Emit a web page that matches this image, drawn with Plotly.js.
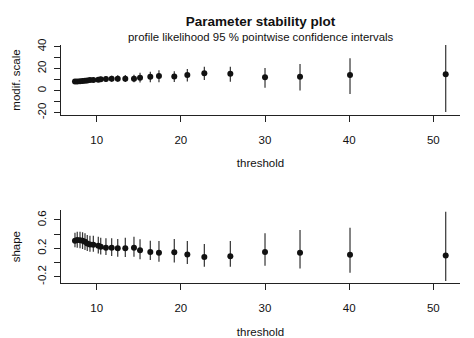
<!DOCTYPE html>
<html><head><meta charset="utf-8">
<script src="https://cdn.plot.ly/plotly-3.0.1.min.js"></script>
<style>html,body{margin:0;padding:0;background:#fff}#chart{width:474px;height:338px}</style>
</head><body><div id="chart"></div>
<script>
const threshold = [7.42, 7.69, 8.02, 8.32, 8.61, 8.88, 9.20, 9.60, 10.19, 10.48, 11.10, 11.78, 12.50, 13.40, 14.43, 15.15, 16.37, 17.40, 19.22, 20.77, 22.79, 25.88, 30.0, 34.16, 40.1, 51.47];
const scaleEst = [8.3, 8.4, 8.5, 8.7, 9.0, 9.3, 9.6, 9.8, 10.0, 10.3, 10.6, 10.8, 10.9, 10.9, 10.9, 11.8, 12.7, 13.3, 12.8, 14.3, 15.9, 15.4, 12.2, 12.7, 14.3, 14.9];
const scaleUpper = [9.8, 10.0, 10.2, 10.5, 10.8, 11.2, 11.6, 11.9, 12.3, 12.7, 13.2, 13.6, 13.9, 14.2, 14.5, 16.3, 17.3, 18.6, 17.6, 19.6, 21.8, 21.8, 20.7, 24.2, 29.4, 43.3];
const scaleLower = [6.8, 6.9, 7.0, 7.1, 7.3, 7.5, 7.7, 7.8, 7.9, 8.0, 8.2, 8.2, 8.1, 7.9, 7.6, 7.4, 7.6, 7.6, 7.8, 8.4, 9.6, 8.2, 2.6, 0.1, -3.0, -19.4];
const shapeEst = [0.307, 0.317, 0.313, 0.307, 0.293, 0.270, 0.256, 0.251, 0.237, 0.223, 0.209, 0.209, 0.200, 0.200, 0.209, 0.172, 0.150, 0.138, 0.146, 0.115, 0.077, 0.088, 0.148, 0.138, 0.110, 0.101];
const shapeUpper = [0.421, 0.435, 0.435, 0.426, 0.412, 0.388, 0.378, 0.378, 0.364, 0.350, 0.341, 0.341, 0.331, 0.350, 0.364, 0.327, 0.307, 0.303, 0.331, 0.303, 0.261, 0.303, 0.412, 0.459, 0.491, 0.717];
const shapeLower = [0.214, 0.209, 0.200, 0.190, 0.176, 0.162, 0.152, 0.152, 0.129, 0.115, 0.105, 0.091, 0.081, 0.077, 0.081, 0.045, 0.035, 0.011, 0.002, -0.022, -0.060, -0.060, -0.045, -0.083, -0.145, -0.262];
const xTicks = [10, 20, 30, 40, 50];
const scaleTicks = [-20, -10, 0, 10, 20, 30, 40];
const scaleTickText = ['-20', '', '0', '', '20', '', '40'];
const shapeTicks = [-0.2, 0, 0.2, 0.4, 0.6];
const shapeTickText = ['-0.2', '', '0.2', '', '0.6'];

const font = 'Liberation Sans, Arial, sans-serif';
const ink = '#111';
function errs(est, up, lo) {
  return {
    type: 'data', symmetric: false,
    array: up.map((u, i) => u - est[i]),
    arrayminus: est.map((e, i) => e - lo[i]),
    width: 0, thickness: 1.2, color: '#333'
  };
}
const traces = [
  {x: threshold, y: scaleEst, xaxis: 'x', yaxis: 'y', type: 'scatter', mode: 'markers',
   marker: {color: ink, size: 6}, error_y: errs(scaleEst, scaleUpper, scaleLower), hoverinfo: 'x+y'},
  {x: threshold, y: shapeEst, xaxis: 'x2', yaxis: 'y2', type: 'scatter', mode: 'markers',
   marker: {color: ink, size: 6}, error_y: errs(shapeEst, shapeUpper, shapeLower), hoverinfo: 'x+y'}
];
const axBase = {showgrid: false, zeroline: false, showline: true, linecolor: '#222', linewidth: 1,
  ticks: 'outside', ticklen: 6, tickcolor: '#222', tickwidth: 1,
  tickfont: {family: font, size: 11.5, color: ink}};
const xr = [5.76, 53.17];
const layout = {
  width: 474, height: 338, margin: {l: 0, r: 0, t: 0, b: 0},
  paper_bgcolor: '#fff', plot_bgcolor: '#fff', showlegend: false,
  font: {family: font, color: ink},
  xaxis: Object.assign({}, axBase, {domain: [0.1287, 0.9705], range: xr, tickvals: xTicks, anchor: 'y',
    ticklabelstandoff: 8,
    title: {text: 'threshold', font: {family: font, size: 11.5, color: ink}, standoff: 14}}),
  yaxis: Object.assign({}, axBase, {domain: [0.6598, 0.8669], range: [-22.1, 41.5], tickvals: scaleTicks,
    ticktext: scaleTickText, tickangle: -90, anchor: 'x', ticklabelstandoff: 3,
    title: {text: 'modif. scale', font: {family: font, size: 11.5, color: ink}, standoff: 13}}),
  xaxis2: Object.assign({}, axBase, {domain: [0.1287, 0.9705], range: xr, tickvals: xTicks, anchor: 'y2',
    ticklabelstandoff: 8,
    title: {text: 'threshold', font: {family: font, size: 11.5, color: ink}, standoff: 14}}),
  yaxis2: Object.assign({}, axBase, {domain: [0.1618, 0.3787], range: [-0.293, 0.741], tickvals: shapeTicks,
    ticktext: shapeTickText, tickangle: -90, anchor: 'x2', ticklabelstandoff: 3,
    title: {text: 'shape', font: {family: font, size: 11.5, color: ink}, standoff: 13}}),
  title: {text: '<b>Parameter stability plot</b>', font: {family: font, size: 13.5, color: ink},
    x: 260.5 / 474, xanchor: 'center', xref: 'paper', y: 1 - 21 / 338, yanchor: 'middle', yref: 'paper'},
  annotations: [
    {text: 'profile likelihood 95 % pointwise confidence intervals', xref: 'paper', yref: 'paper',
     x: 260.5 / 474, y: 1 - 36.7 / 338, xanchor: 'center', yanchor: 'middle', showarrow: false,
     font: {family: font, size: 11.4, color: ink}}
  ]
};
Plotly.newPlot('chart', traces, layout, {staticPlot: true, displayModeBar: false});
</script></body></html>
